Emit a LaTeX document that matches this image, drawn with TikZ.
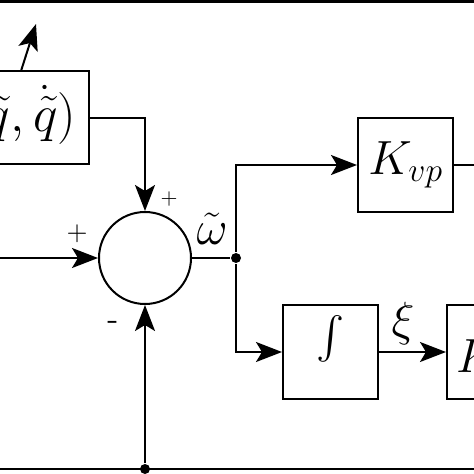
\RequirePackage{fix-cm}
\documentclass[tikz,border=0pt]{standalone}
\usepackage{graphicx}
\usetikzlibrary{arrows.meta}
\begin{document}
\begin{tikzpicture}[x=1pt,y=-1pt, line width=2pt,
  blk/.style={draw, minimum width=95pt, minimum height=94pt, inner sep=0pt, font=\fontsize{48}{56}\selectfont},
  arr/.style={-{Stealth[length=26pt,width=20pt,inset=6pt]}},
  dotc/.style={circle, fill, inner sep=0pt, minimum size=10pt},
  lbl/.style={font=\fontsize{48}{56}\selectfont, inner sep=0pt},
  sgn/.style={inner sep=0pt}]
\useasboundingbox (0,0) rectangle (474,474);
\clip (0,0) rectangle (474,474);
% frame lines
\coordinate (tl) at (-5,1);
\coordinate (tr) at (480,1);
\draw[line width=3pt] (tl) -- (tr);
% blocks
\node[blk, minimum width=149pt, minimum height=93pt] (box1) at (14.5,117.5) {};
\node[lbl, font=\fontsize{52}{60}\selectfont, anchor=base east] (t1) at (77,131) {$(\tilde q,\dot{\tilde q})$};
\node[draw, circle, minimum size=92pt, inner sep=0pt] (sum) at (145,258) {};
\node[blk] (Kvp) at (405.5,165) {$K_{vp}$};
\node[blk] (integ) at (330.5,352) {\resizebox{!}{74pt}{$\int$}};
\node[blk] (K2) at (494.5,352) {};
\node[lbl, anchor=base west] (k2t) at (455,372) {$K$};
% junctions
\node[dotc] (j) at (236,258) {};
\node[dotc] (b) at (145,469) {};
\coordinate (in) at (-5,258);
\coordinate (out) at (480,165);
\coordinate (bl) at (-5,469);
\coordinate (br) at (480,469);
\coordinate (upin) at (21,71);
\coordinate (upout) at (36,24);
% connectors
\draw[arr] (upin) -- (upout);
\draw[arr] (box1.east) -| (sum.north);
\draw[arr] (in) -- (sum.west);
\draw[arr] (b) -- (sum.south);
\draw (bl) -- (br);
\draw (sum.east) -- (j);
\draw[arr] (j) |- (Kvp.west);
\draw[arr] (j) |- (integ.west);
\draw[arr] (integ.east) -- (K2.west);
\draw (Kvp.east) -- (out);
% labels
\node[sgn] (p1) at (169,199) {\resizebox{17pt}{!}{$+$}};
\node[sgn] (p2) at (77,234) {\resizebox{21pt}{!}{$+$}};
\node[sgn] (m1) at (113,325) {\resizebox{11pt}{!}{-}};
\node[lbl] (w) at (212,229) {$\tilde\omega$};
\node[lbl] (xi) at (403,323) {$\xi$};
\end{tikzpicture}
\end{document}
